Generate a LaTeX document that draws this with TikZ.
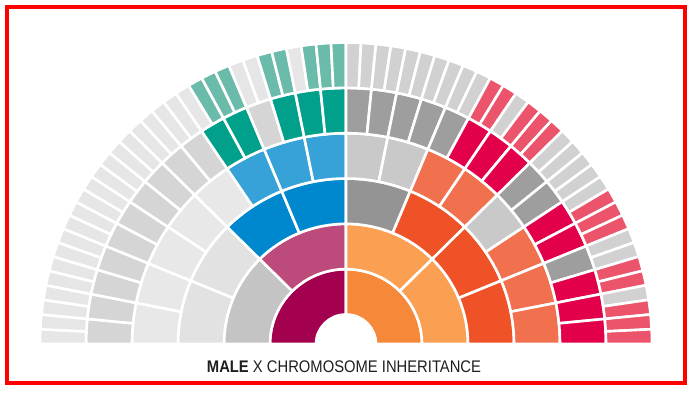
\documentclass[tikz,border=0pt]{standalone}
\usepackage{fontspec}
\newfontfamily\titlefont[FakeStretch=0.88]{Liberation Sans}
\definecolor{xinhFrame}{RGB}{255, 0, 0}
\definecolor{xinhText}{RGB}{30, 30, 30}
\definecolor{xinhColL1}{HTML}{A3004F}
\definecolor{xinhColL2}{HTML}{BC4B7B}
\definecolor{xinhColL3}{HTML}{0088CF}
\definecolor{xinhColL4}{HTML}{36A2D8}
\definecolor{xinhColL5}{HTML}{00A08A}
\definecolor{xinhColL6}{HTML}{6BBBAA}
\definecolor{xinhColR1}{HTML}{F6883A}
\definecolor{xinhColR2}{HTML}{FBA052}
\definecolor{xinhColR3}{HTML}{EE5226}
\definecolor{xinhColR4}{HTML}{F1714F}
\definecolor{xinhColR5}{HTML}{E3004B}
\definecolor{xinhColR6}{HTML}{EC546C}
\definecolor{xinhGrayL1}{HTML}{C4C4C4}
\definecolor{xinhGrayL2}{HTML}{C4C4C4}
\definecolor{xinhGrayL3}{HTML}{E2E2E2}
\definecolor{xinhGrayL4}{HTML}{E8E8E8}
\definecolor{xinhGrayL5}{HTML}{D5D5D5}
\definecolor{xinhGrayL6}{HTML}{E6E6E6}
\definecolor{xinhGrayR1}{HTML}{949494}
\definecolor{xinhGrayR2}{HTML}{949494}
\definecolor{xinhGrayR3}{HTML}{949494}
\definecolor{xinhGrayR4}{HTML}{C9C9C9}
\definecolor{xinhGrayR5}{HTML}{9E9E9E}
\definecolor{xinhGrayR6}{HTML}{D1D1D1}

\begin{document}
\begin{tikzpicture}[
  x=1pt, y=1pt,
  sector/.style={draw=white, line width=2.6pt},
  frame/.style={draw=xinhFrame, line width=4pt},
  title/.style={
    font=\titlefont\fontsize{16.8}{20}\selectfont,
    text=xinhText,
    anchor=base,
    inner sep=0pt
  }
]
  \useasboundingbox (-346,-49) rectangle (346,343);
  \begin{scope}[yshift=-1pt, yscale=0.985]
  \foreach \r/\flags in {
    1/{1,1},
    2/{0,1,1,1},
    3/{0,0,1,1,0,1,1,1},
    4/{0,0,0,0,0,1,1,1,0,0,1,1,0,1,1,1},
    5/{0,0,0,0,0,0,0,0,0,0,1,1,0,1,1,1,0,0,0,0,0,1,1,1,0,0,1,1,0,1,1,1},
    6/{0,0,0,0,0,0,0,0,0,0,0,0,0,0,0,0,0,0,0,0,0,1,1,1,0,0,1,1,0,1,1,1,
       0,0,0,0,0,0,0,0,0,0,1,1,0,1,1,1,0,0,0,0,0,1,1,1,0,0,1,1,0,1,1,1}}{
    \pgfmathsetmacro\rin{30+46*(\r-1)}
    \pgfmathsetmacro\rout{\rin+46}
    \pgfmathsetmacro\da{180/2^\r}
    \pgfmathtruncatemacro\half{2^(\r-1)}
    \foreach \f [count=\k from 0] in \flags {
      \ifnum\k<\half \def\side{L}\else \def\side{R}\fi
      \ifnum\f=1 \def\col{xinhCol\side\r}\else \def\col{xinhGray\side\r}\fi
      \pgfmathsetmacro\aA{180-\k*\da}
      \pgfmathsetmacro\aB{\aA-\da}
      \path[sector, fill=\col]
        (\aA:\rin) arc[start angle=\aA, end angle=\aB, radius=\rin]
        -- (\aB:\rout) arc[start angle=\aB, end angle=\aA, radius=\rout]
        -- cycle;
    }
  }
  \end{scope}
  \node[title] (title) at (-2,-29)
    {\textbf{MALE} X CHROMOSOME INHERITANCE};
  \draw[frame] (-339,-40) rectangle (339,336);
\end{tikzpicture}
\end{document}
